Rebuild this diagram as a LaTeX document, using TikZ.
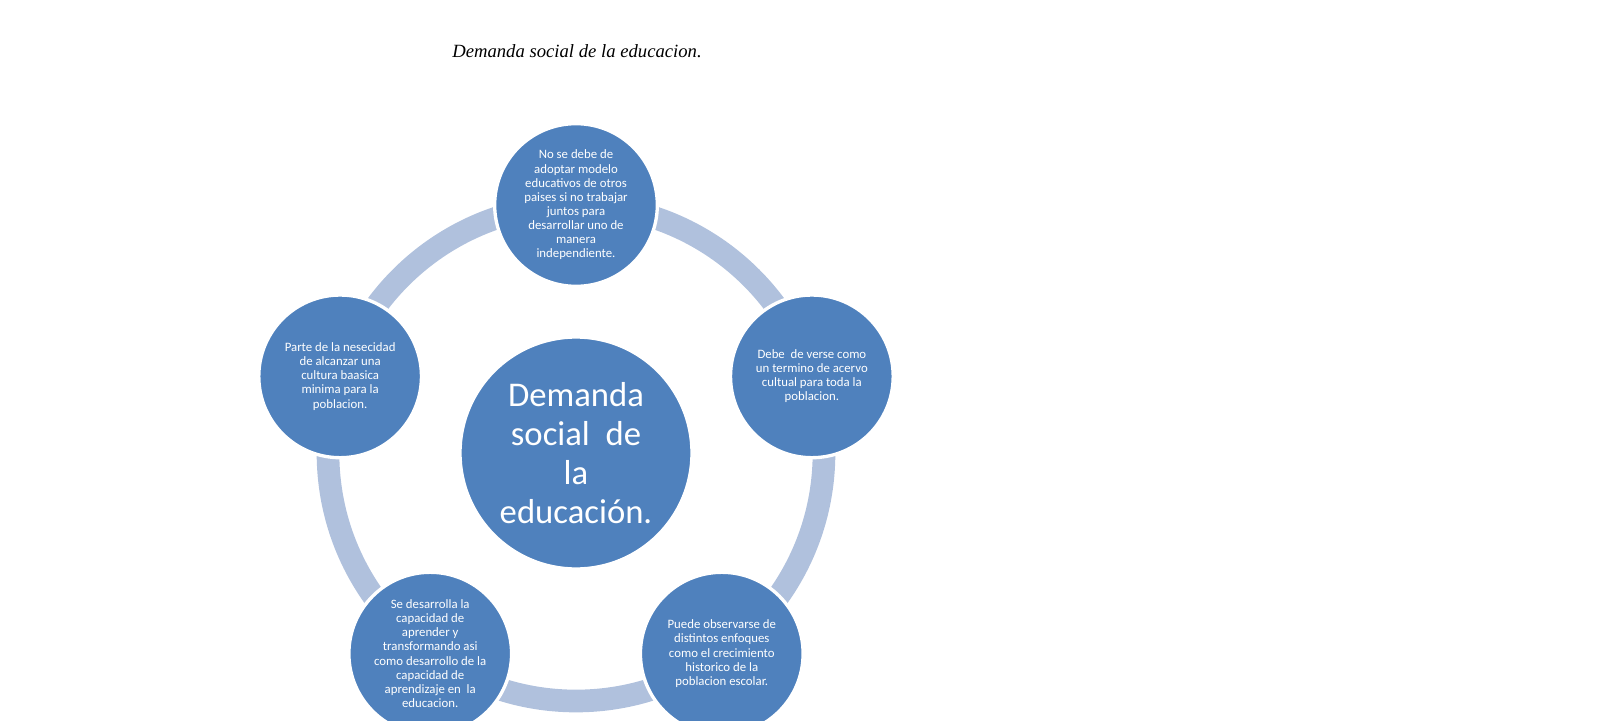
\documentclass[tikz,border=0pt]{standalone}
\usepackage{fontspec}
\setmainfont{Carlito}
\newfontfamily\titlefont{Liberation Serif}
\usepackage{tikz}
\usetikzlibrary{calc,positioning}
\definecolor{hubblue}{RGB}{79,129,189}
\definecolor{ringblue}{RGB}{176,193,221}
\tikzstyle{sat} = [circle, minimum size=122pt, inner sep=0pt, fill=hubblue, draw=white, line width=2.5pt, text=white, align=center, font=\fontsize{9.6}{10.6}\selectfont]
\tikzstyle{hub} = [circle, minimum size=174pt, inner sep=0pt, fill=hubblue, draw=white, line width=2.5pt, text=white, align=center, font=\fontsize{26}{29.3}\selectfont]

\begin{document}
\begin{tikzpicture}[x=0.75pt,y=0.75pt]
            \useasboundingbox (0,0) rectangle (1600,-721);
            %    ring behind the circles
            \coordinate (Mid) at (576,-453);
            \draw[ringblue,line width=17pt] (Mid) circle (248);

            \node[font=\titlefont\itshape\fontsize{14}{16}\selectfont] (Title) at (577,-51) {Demanda social de la educacion.};

            \node[hub] (Demanda) at (Mid) {Demanda\\social\ \ de\\la\\educación.};
            \node[sat] (Adoptar) at ($(Mid)+(90:248)$) {No se debe de\\adoptar modelo\\educativos de otros\\paises si no trabajar\\juntos para\\desarrollar uno de\\manera\\independiente.};
            \node[sat] (Acervo) at ($(Mid)+(18:248)$) {Debe\ \ de verse como\\un termino de acervo\\cultual para toda la\\poblacion.};
            \node[sat] (Enfoques) at ($(Mid)+(-54:248)$) {Puede observarse de\\distintos enfoques\\como el crecimiento\\historico de la\\poblacion escolar.};
            \node[sat] (Aprender) at ($(Mid)+(234:248)$) {Se desarrolla la\\capacidad de\\aprender y\\transformando asi\\como desarrollo de la\\capacidad de\\aprendizaje en\ \ la\\educacion.};
            \node[sat] (Cultura) at ($(Mid)+(162:248)$) {Parte de la nesecidad\\de alcanzar una\\cultura baasica\\minima para la\\poblacion.};
        \end{tikzpicture}
\end{document}
